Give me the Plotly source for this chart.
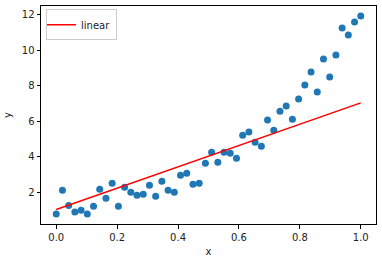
import plotly.graph_objects as go

x_vals = [i / 49 for i in range(50)]
y_vals = [0.76, 2.10, 1.25, 0.88, 0.97, 0.76, 1.20, 2.16, 1.65, 2.50,
          1.20, 2.27, 1.99, 1.82, 1.88, 2.38, 1.76, 2.61, 2.10, 1.99,
          2.95, 3.06, 2.44, 2.50, 3.63, 4.25, 3.68, 4.25, 4.19, 3.90,
          5.20, 5.38, 4.81, 4.59, 6.06, 5.49, 6.56, 6.85, 6.11, 7.24,
          8.03, 8.77, 7.64, 9.50, 8.49, 9.73, 11.25, 10.86, 11.59, 11.93]
fit_x = [0.0, 1.0]
fit_y = [1.02, 7.03]
x_ticks = [0.0, 0.2, 0.4, 0.6, 0.8, 1.0]
y_ticks = [2, 4, 6, 8, 10, 12]

fig = go.Figure()
fig.add_trace(go.Scatter(x=x_vals, y=y_vals, mode="markers",
                         marker=dict(color="#1f77b4", size=7, line=dict(width=0)),
                         showlegend=False))
fig.add_trace(go.Scatter(x=fit_x, y=fit_y, mode="lines", name="linear",
                         line=dict(color="red", width=1.5)))

axis_common = dict(showline=True, linecolor="black", linewidth=1, mirror=True,
                   ticks="outside", ticklen=3.5, tickwidth=0.8, tickcolor="black",
                   showgrid=False, zeroline=False,
                   tickfont=dict(family="DejaVu Sans", size=10, color="#222"))
fig.update_xaxes(range=[-0.05, 1.05], tickvals=x_ticks,
                 ticktext=[f"{v:.1f}" for v in x_ticks],
                 title=dict(text="x", font=dict(family="DejaVu Sans", size=10, color="#222"), standoff=6),
                 **axis_common)
fig.update_yaxes(range=[0.2, 12.49], tickvals=y_ticks,
                 title=dict(text="y", font=dict(family="DejaVu Sans", size=10, color="#222"), standoff=8),
                 **axis_common)
fig.update_layout(width=382, height=262,
                  margin=dict(l=41, r=6, t=6, b=38),
                  plot_bgcolor="white", paper_bgcolor="white",
                  font=dict(family="DejaVu Sans", size=10, color="#222"),
                  legend=dict(x=0.015, y=0.985, xanchor="left", yanchor="top",
                              bgcolor="rgba(255,255,255,0.8)", bordercolor="#cccccc",
                              borderwidth=1, font=dict(size=10), itemwidth=30,
                              tracegroupgap=0, indentation=-6))
fig.write_html("out.html")
